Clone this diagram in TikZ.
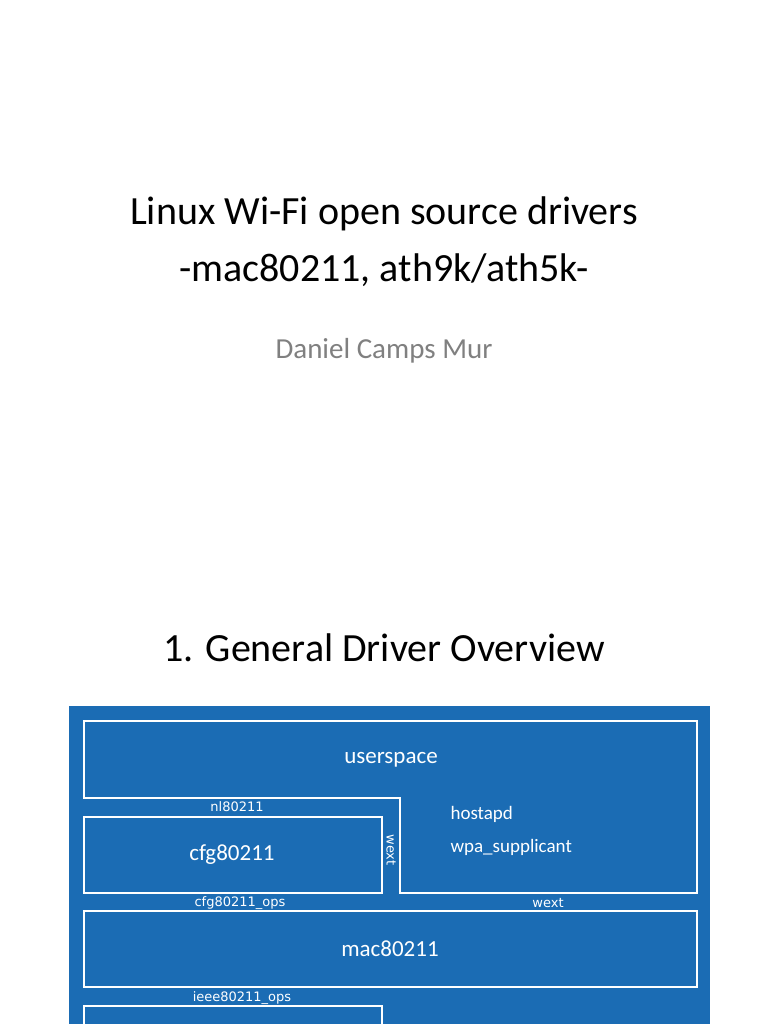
\documentclass[tikz,border=0pt]{standalone}
\usepackage{fontspec}
\setmainfont{Carlito}
\newfontfamily\lab{DejaVu Sans}
\definecolor{bluebg}{RGB}{27,108,180}
\begin{document}
\begin{tikzpicture}[x=1pt,y=-1pt,
  box/.style={draw=white,line width=2.5pt},
  big/.style={text=white,font=\fontsize{23}{26}\selectfont},
  mid/.style={text=white,font=\fontsize{19}{22}\selectfont},
  small/.style={text=white,font=\lab\fontsize{13}{14}\selectfont,fill=bluebg,inner sep=1pt}]
\useasboundingbox (0,0) rectangle (768,1024);
\fill[white] (0,0) rectangle (768,1024);
\node (t1) at (384,214) {\fontsize{40}{48}\selectfont Linux Wi-Fi open source drivers};
\node (t2) at (384,270) {\fontsize{40}{48}\selectfont -mac80211, ath9k/ath5k-};
\node[text=gray] (au) at (384,351) {\fontsize{29}{34}\selectfont Daniel Camps Mur};
\node (t3) at (384,648) {\fontsize{40}{48}\selectfont 1. General Driver Overview};
\fill[bluebg] (69,706) rectangle (710,1024);
\draw[box] (84,721) -- (697,721) -- (697,893) -- (400,893) -- (400,798) -- (84,798) -- cycle;
\draw[box] (84,817) rectangle (382,893);
\draw[box] (84,911) rectangle (697,987);
\draw[box] (84,1006) rectangle (382,1040);
\node[big] (us) at (391,760) {userspace};
\node[mid,anchor=west] (ho) at (447,814) {hostapd};
\node[mid,anchor=west] (wp) at (447,847) {wpa\_supplicant};
\node[big] (cf) at (232,855) {cfg80211};
\node[big] (mc) at (390,949) {mac80211};
\node[small] (nl) at (237,807) {nl80211};
\node[small,rotate=-90] (w1) at (391,850) {wext};
\node[small] (co) at (240,903) {cfg80211\_ops};
\node[small] (w2) at (548,903) {wext};
\node[small] (io) at (242,998) {ieee80211\_ops};
\end{tikzpicture}
\end{document}
